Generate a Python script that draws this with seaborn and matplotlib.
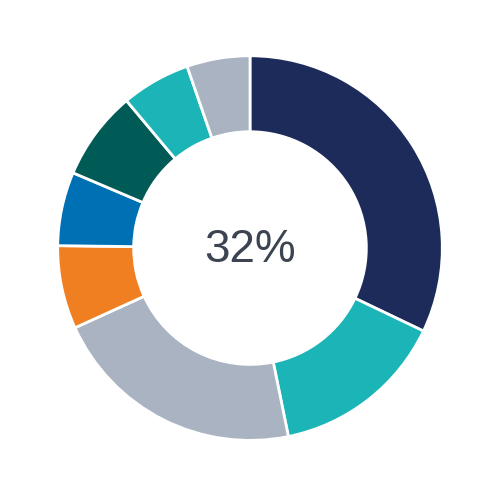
import matplotlib
matplotlib.use("Agg")
import matplotlib.pyplot as plt
import seaborn as sns

# slice shares, clockwise from 12 o'clock
segments = ["A", "B", "C", "D", "E", "F", "G", "H"]
shares = [32.1, 14.7, 21.4, 7.0, 6.2, 7.5, 5.8, 5.3]
colors = ["#1c2b5a", "#1cb5b7", "#a9b3c1", "#f07f22",
          "#0070b4", "#005a55", "#1cb5b7", "#a9b3c1"]
center_label = "32%"

sns.set_theme(style="white")
plt.rcParams['font.family'] = ['Liberation Sans', 'DejaVu Sans']

fig = plt.figure(figsize=(5, 5), dpi=100)
ax = fig.add_axes([0, 0, 1, 1])
ax.pie(shares, colors=sns.color_palette(colors), startangle=90, counterclock=False,
       radius=1.0, wedgeprops=dict(width=0.395, edgecolor="white", linewidth=2))
ax.text(0, -0.01, center_label, ha="center", va="center", fontsize=33, color="#3d4451")
ax.set_xlim(-1.3, 1.3)
ax.set_ylim(-1.31, 1.29)
ax.set_aspect("equal")
ax.axis("off")

fig.savefig("out.png", dpi=100, facecolor="white")
